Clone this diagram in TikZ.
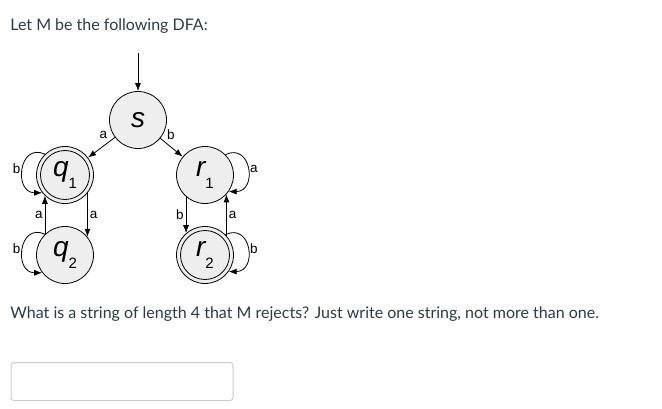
\documentclass[tikz,border=0pt]{standalone}
\usepackage{fontspec}
\setmainfont{Lato}
\newfontfamily\arialfont{Liberation Sans}
\usetikzlibrary{arrows.meta}
\definecolor{canvastext}{HTML}{2D3B45}
\definecolor{statefill}{HTML}{EEEEEE}
\definecolor{boxline}{HTML}{C7CDD1}
\newcommand{\sub}[1]{\raisebox{-12pt}{\upshape\fontsize{15}{15}\selectfont #1}}
\begin{document}
\begin{tikzpicture}[x=1pt,y=1pt,line width=0.8pt,
    >={Latex[length=8pt,width=6pt]},
    state/.style={circle,draw,fill=statefill,minimum size=57pt,inner sep=0pt,
      font=\arialfont\itshape\fontsize{28}{28}\selectfont},
    accept/.style={state,path picture={\draw (path picture bounding box.center) circle (24.5pt);}},
    lbl/.style={font=\arialfont\fontsize{13.5}{13.5}\selectfont,inner sep=2pt},
    prose/.style={anchor=west,inner sep=0pt,text=canvastext,font=\fontsize{16}{16}\selectfont}]
  \useasboundingbox (0,0) rectangle (662,408);
  \node[prose] (intro) at (10,382) {Let M be the following DFA:};
  \node[state] (s) at (138,288) {s};
  \node[accept] (q1) at (65,233) {q\sub{1}};
  \node[state] (q2) at (65,153) {q\sub{2}};
  \node[state] (r1) at (205,233) {r\sub{1}};
  \node[accept] (r2) at (205,153) {r\sub{2}};
  \coordinate (start) at (138,355);
  \draw[->] (start) -- (s);
  \draw[->] (s) -- (q1) node[lbl,pos=0.2,above left] {a};
  \draw[->] (s) -- (r1) node[lbl,pos=0.2,above right] {b};
  % loops
  \draw[->] (q1.134) .. controls +(155:29) and +(180:29) .. (q1.218) node[lbl,midway,left] {b};
  \draw[->] (q2.134) .. controls +(155:29) and +(180:29) .. (q2.218) node[lbl,midway,left] {b};
  \draw[->] (r1.45) .. controls +(25:29) and +(0:29) .. (r1.-35) node[lbl,midway,right] {a};
  \draw[->] (r2.45) .. controls +(25:29) and +(0:29) .. (r2.-35) node[lbl,midway,right] {b};
  % up and down
  \draw[->] (q1.-39.5) -- (q2.39.5) node[lbl,midway,right] {a};
  \draw[->] (q2.134.6) -- (q1.-134.6) node[lbl,midway,left] {a};
  \draw[->] (r1.-131.8) -- (r2.131.8) node[lbl,midway,left] {b};
  \draw[->] (r2.42.5) -- (r1.-42.5) node[lbl,midway,right] {a};
  \node[prose] (question) at (10,94) {What is a string of length 4 that M rejects? Just write one string, not more than one.};
  \node[draw=boxline,line width=1pt,rounded corners=3pt,minimum width=222pt,minimum height=38pt,anchor=south west] (answer) at (10.5,7) {};
\end{tikzpicture}
\end{document}
